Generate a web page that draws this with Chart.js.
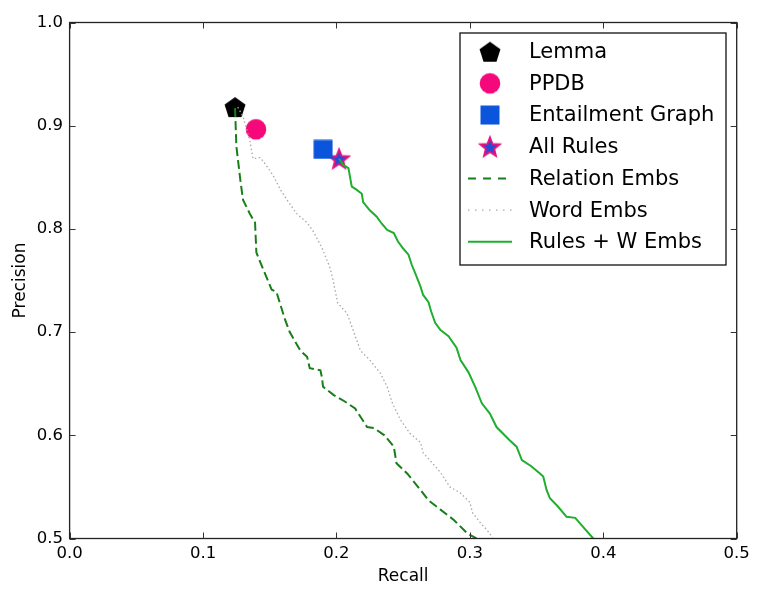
<!DOCTYPE html>
<html><head><meta charset="utf-8">
<script src="https://cdn.jsdelivr.net/npm/chart.js@4.4.1/dist/chart.umd.min.js"></script>
<style>html,body{margin:0;padding:0;background:#fff;}#wrap{width:763px;height:599px;}</style>
</head><body><div id="wrap"><canvas id="c" width="763" height="599"></canvas></div>
<script>
// ---- data ----
const xTicks = [0.0, 0.1, 0.2, 0.3, 0.4, 0.5];
const yTicks = [0.5, 0.6, 0.7, 0.8, 0.9, 1.0];
const xTitle = 'Recall';
const yTitle = 'Precision';

const pointNames = ['Lemma', 'PPDB', 'Entailment Graph', 'All Rules'];
const pointRecall = [0.124, 0.1397, 0.190, 0.202];
const pointPrecision = [0.918, 0.8965, 0.877, 0.868];

const lineNames = ['Relation Embs', 'Word Embs', 'Rules + W Embs'];

const relRecall = [0.124,0.125,0.128,0.130,0.135,0.139,0.140,0.146,0.1515,0.155,0.1615,0.165,0.173,0.178,0.180,0.188,0.189,0.190,0.198,0.206,0.214,0.218,0.223,0.228,0.236,0.243,0.245,0.253,0.263,0.269,0.278,0.288,0.298,0.305];
const relPrecision = [0.917,0.880,0.847,0.828,0.815,0.806,0.777,0.758,0.741,0.739,0.712,0.700,0.682,0.676,0.665,0.663,0.657,0.647,0.639,0.633,0.626,0.618,0.608,0.607,0.600,0.589,0.573,0.563,0.547,0.537,0.528,0.518,0.505,0.500];

const wordRecall = [0.126,0.130,0.135,0.1375,0.143,0.146,0.1525,0.158,0.163,0.170,0.178,0.182,0.189,0.195,0.1975,0.201,0.208,0.2125,0.218,0.225,0.233,0.238,0.242,0.248,0.255,0.263,0.265,0.272,0.278,0.285,0.293,0.300,0.302,0.308,0.313,0.317];
const wordPrecision = [0.918,0.909,0.886,0.868,0.869,0.864,0.852,0.838,0.828,0.815,0.806,0.799,0.782,0.763,0.750,0.728,0.718,0.702,0.682,0.673,0.660,0.647,0.631,0.615,0.602,0.593,0.583,0.573,0.564,0.550,0.544,0.535,0.525,0.515,0.508,0.501];

const combRecall = [0.202,0.205,0.209,0.2115,0.215,0.219,0.220,0.225,0.230,0.234,0.238,0.243,0.246,0.250,0.254,0.2565,0.260,0.263,0.265,0.269,0.271,0.274,0.278,0.284,0.290,0.293,0.299,0.304,0.309,0.315,0.320,0.330,0.335,0.339,0.346,0.3525,0.355,0.3575,0.360,0.366,0.3725,0.379,0.385,0.3925];
const combPrecision = [0.868,0.862,0.859,0.841,0.838,0.834,0.826,0.818,0.812,0.805,0.799,0.796,0.788,0.781,0.775,0.765,0.754,0.744,0.736,0.729,0.720,0.709,0.702,0.696,0.685,0.673,0.661,0.647,0.631,0.621,0.608,0.595,0.589,0.576,0.570,0.563,0.560,0.547,0.539,0.531,0.521,0.520,0.511,0.500];

// ---- marker images ----
function makeCanvas(size){ const c=document.createElement('canvas'); c.width=size; c.height=size; return c; }
function pentagonImg(){
  const s=24, c=makeCanvas(s), g=c.getContext('2d'), r=11, cx=s/2, cy=s/2+1;
  g.beginPath();
  for(let i=0;i<5;i++){ const a=-Math.PI/2+i*2*Math.PI/5; const px=cx+r*Math.cos(a), py=cy+r*Math.sin(a); i?g.lineTo(px,py):g.moveTo(px,py); }
  g.closePath(); g.fillStyle='#000'; g.fill(); return c;
}
function circleImg(){
  const s=24, c=makeCanvas(s), g=c.getContext('2d');
  g.beginPath(); g.arc(s/2,s/2,10.3,0,Math.PI*2); g.fillStyle='#f5087a'; g.fill(); return c;
}
function squareImg(){
  const s=20, c=makeCanvas(s), g=c.getContext('2d');
  g.fillStyle='#0a55dc'; g.fillRect(0.5,0.5,19,19); return c;
}
function starImg(){
  const s=24, c=makeCanvas(s), g=c.getContext('2d'), ro=10, ri=4.3, cx=s/2, cy=s/2+0.8;
  g.beginPath();
  for(let i=0;i<10;i++){ const a=-Math.PI/2+i*Math.PI/5; const r=i%2?ri:ro; const px=cx+r*Math.cos(a), py=cy+r*Math.sin(a); i?g.lineTo(px,py):g.moveTo(px,py); }
  g.closePath(); g.fillStyle='#1f4fd8'; g.fill(); g.lineWidth=2; g.strokeStyle='#e6137f'; g.lineJoin='miter'; g.stroke(); return c;
}
const markerImgs = [pentagonImg(), circleImg(), squareImg(), starImg()];

const lineStyles = [
  {color:'#187e18', width:2, dash:[9,4], legendDash:[8,7]},
  {color:'#a8a8a8', width:1.3, dash:[1.5,2.5], legendDash:[1.5,5.5]},
  {color:'#1fae2e', width:2, dash:[], legendDash:[]}
];

const datasets = [];
pointNames.forEach((n,i)=>{
  datasets.push({label:n, data:[{x:pointRecall[i], y:pointPrecision[i]}], pointStyle:markerImgs[i], pointRadius:10, showLine:false, order:1, kind:'point', img:markerImgs[i]});
});
const lineX = [relRecall, wordRecall, combRecall];
const lineY = [relPrecision, wordPrecision, combPrecision];
lineNames.forEach((n,i)=>{
  const st=lineStyles[i];
  datasets.push({label:n, data:lineX[i].map((x,k)=>({x:x, y:lineY[i][k]})), showLine:true, pointRadius:0, borderColor:st.color, borderWidth:st.width, borderDash:st.dash, fill:false, tension:0, order:0, kind:'line', st:st});
});

const FONT = "'DejaVu Sans', sans-serif";

const framePlugin = {
  id:'frame',
  afterDatasetsDraw(chart){
    const {ctx, chartArea:a, scales:{x, y}} = chart;
    ctx.save();
    ctx.strokeStyle='#222'; ctx.lineWidth=1.3;
    ctx.strokeRect(a.left, a.top, a.right-a.left, a.bottom-a.top);
    ctx.lineWidth=1; ctx.strokeStyle='#333';
    const tl=6;
    ctx.beginPath();
    xTicks.forEach(v=>{ const p=Math.round(x.getPixelForValue(v))+0.5; ctx.moveTo(p,a.bottom); ctx.lineTo(p,a.bottom-tl); ctx.moveTo(p,a.top); ctx.lineTo(p,a.top+tl); });
    yTicks.forEach(v=>{ const p=Math.round(y.getPixelForValue(v))+0.5; ctx.moveTo(a.left,p); ctx.lineTo(a.left+tl,p); ctx.moveTo(a.right,p); ctx.lineTo(a.right-tl,p); });
    ctx.stroke();
    ctx.restore();
  },
  afterDraw(chart){
    const {ctx, chartArea:a} = chart;
    const bx = a.right-276.7, by = a.top+10.5, bw=266, bh=232;
    ctx.save();
    ctx.fillStyle='#fff'; ctx.fillRect(bx,by,bw,bh);
    ctx.strokeStyle='#111'; ctx.lineWidth=1.3; ctx.strokeRect(bx,by,bw,bh);
    ctx.font = "21px " + FONT; ctx.fillStyle='#000'; ctx.textBaseline='middle'; ctx.textAlign='left';
    const rowH=31.67, y0=by+18.7, mx=bx+30, tx=bx+69;
    chart.data.datasets.forEach((d,i)=>{
      const cy=y0+i*rowH;
      if(d.kind==='point'){
        const im=d.img; ctx.drawImage(im, mx-im.width/2, cy-im.height/2);
      } else {
        ctx.save(); ctx.strokeStyle=d.st.color; ctx.lineWidth=d.st.width; ctx.setLineDash(d.st.legendDash);
        ctx.beginPath(); ctx.moveTo(bx+8,cy); ctx.lineTo(bx+52,cy); ctx.stroke(); ctx.restore();
      }
      ctx.fillText(d.label, tx, cy+1);
    });
    ctx.restore();
  }
};

new Chart(document.getElementById('c'), {
  type:'scatter',
  data:{datasets:datasets},
  options:{
    responsive:false, animation:false, devicePixelRatio:1,
    layout:{padding:{top:22.5, right:26.3, left:0, bottom:0}},
    plugins:{legend:{display:false}, tooltip:{enabled:false}},
    scales:{
      x:{type:'linear', min:0, max:0.5,
        afterBuildTicks:s=>{ s.ticks=xTicks.map(v=>({value:v})); },
        afterFit:s=>{ s.height=60.5; },
        grid:{display:false, drawTicks:false}, border:{display:false},
        ticks:{padding:5, color:'#000', font:{family:FONT, size:16.5}, callback:v=>Number(v).toFixed(1), maxRotation:0, autoSkip:false},
        title:{display:true, text:xTitle, color:'#000', font:{family:FONT, size:17}, padding:{top:0, bottom:12}}
      },
      y:{type:'linear', min:0.5, max:1.0,
        afterBuildTicks:s=>{ s.ticks=yTicks.map(v=>({value:v})); },
        afterFit:s=>{ s.width=69.6; },
        grid:{display:false, drawTicks:false}, border:{display:false},
        ticks:{padding:6.5, color:'#000', font:{family:FONT, size:16.5}, callback:v=>Number(v).toFixed(1), autoSkip:false},
        title:{display:true, text:yTitle, color:'#000', font:{family:FONT, size:17}, padding:{top:10, bottom:0}}
      }
    }
  },
  plugins:[framePlugin]
});
</script>
</body></html>
